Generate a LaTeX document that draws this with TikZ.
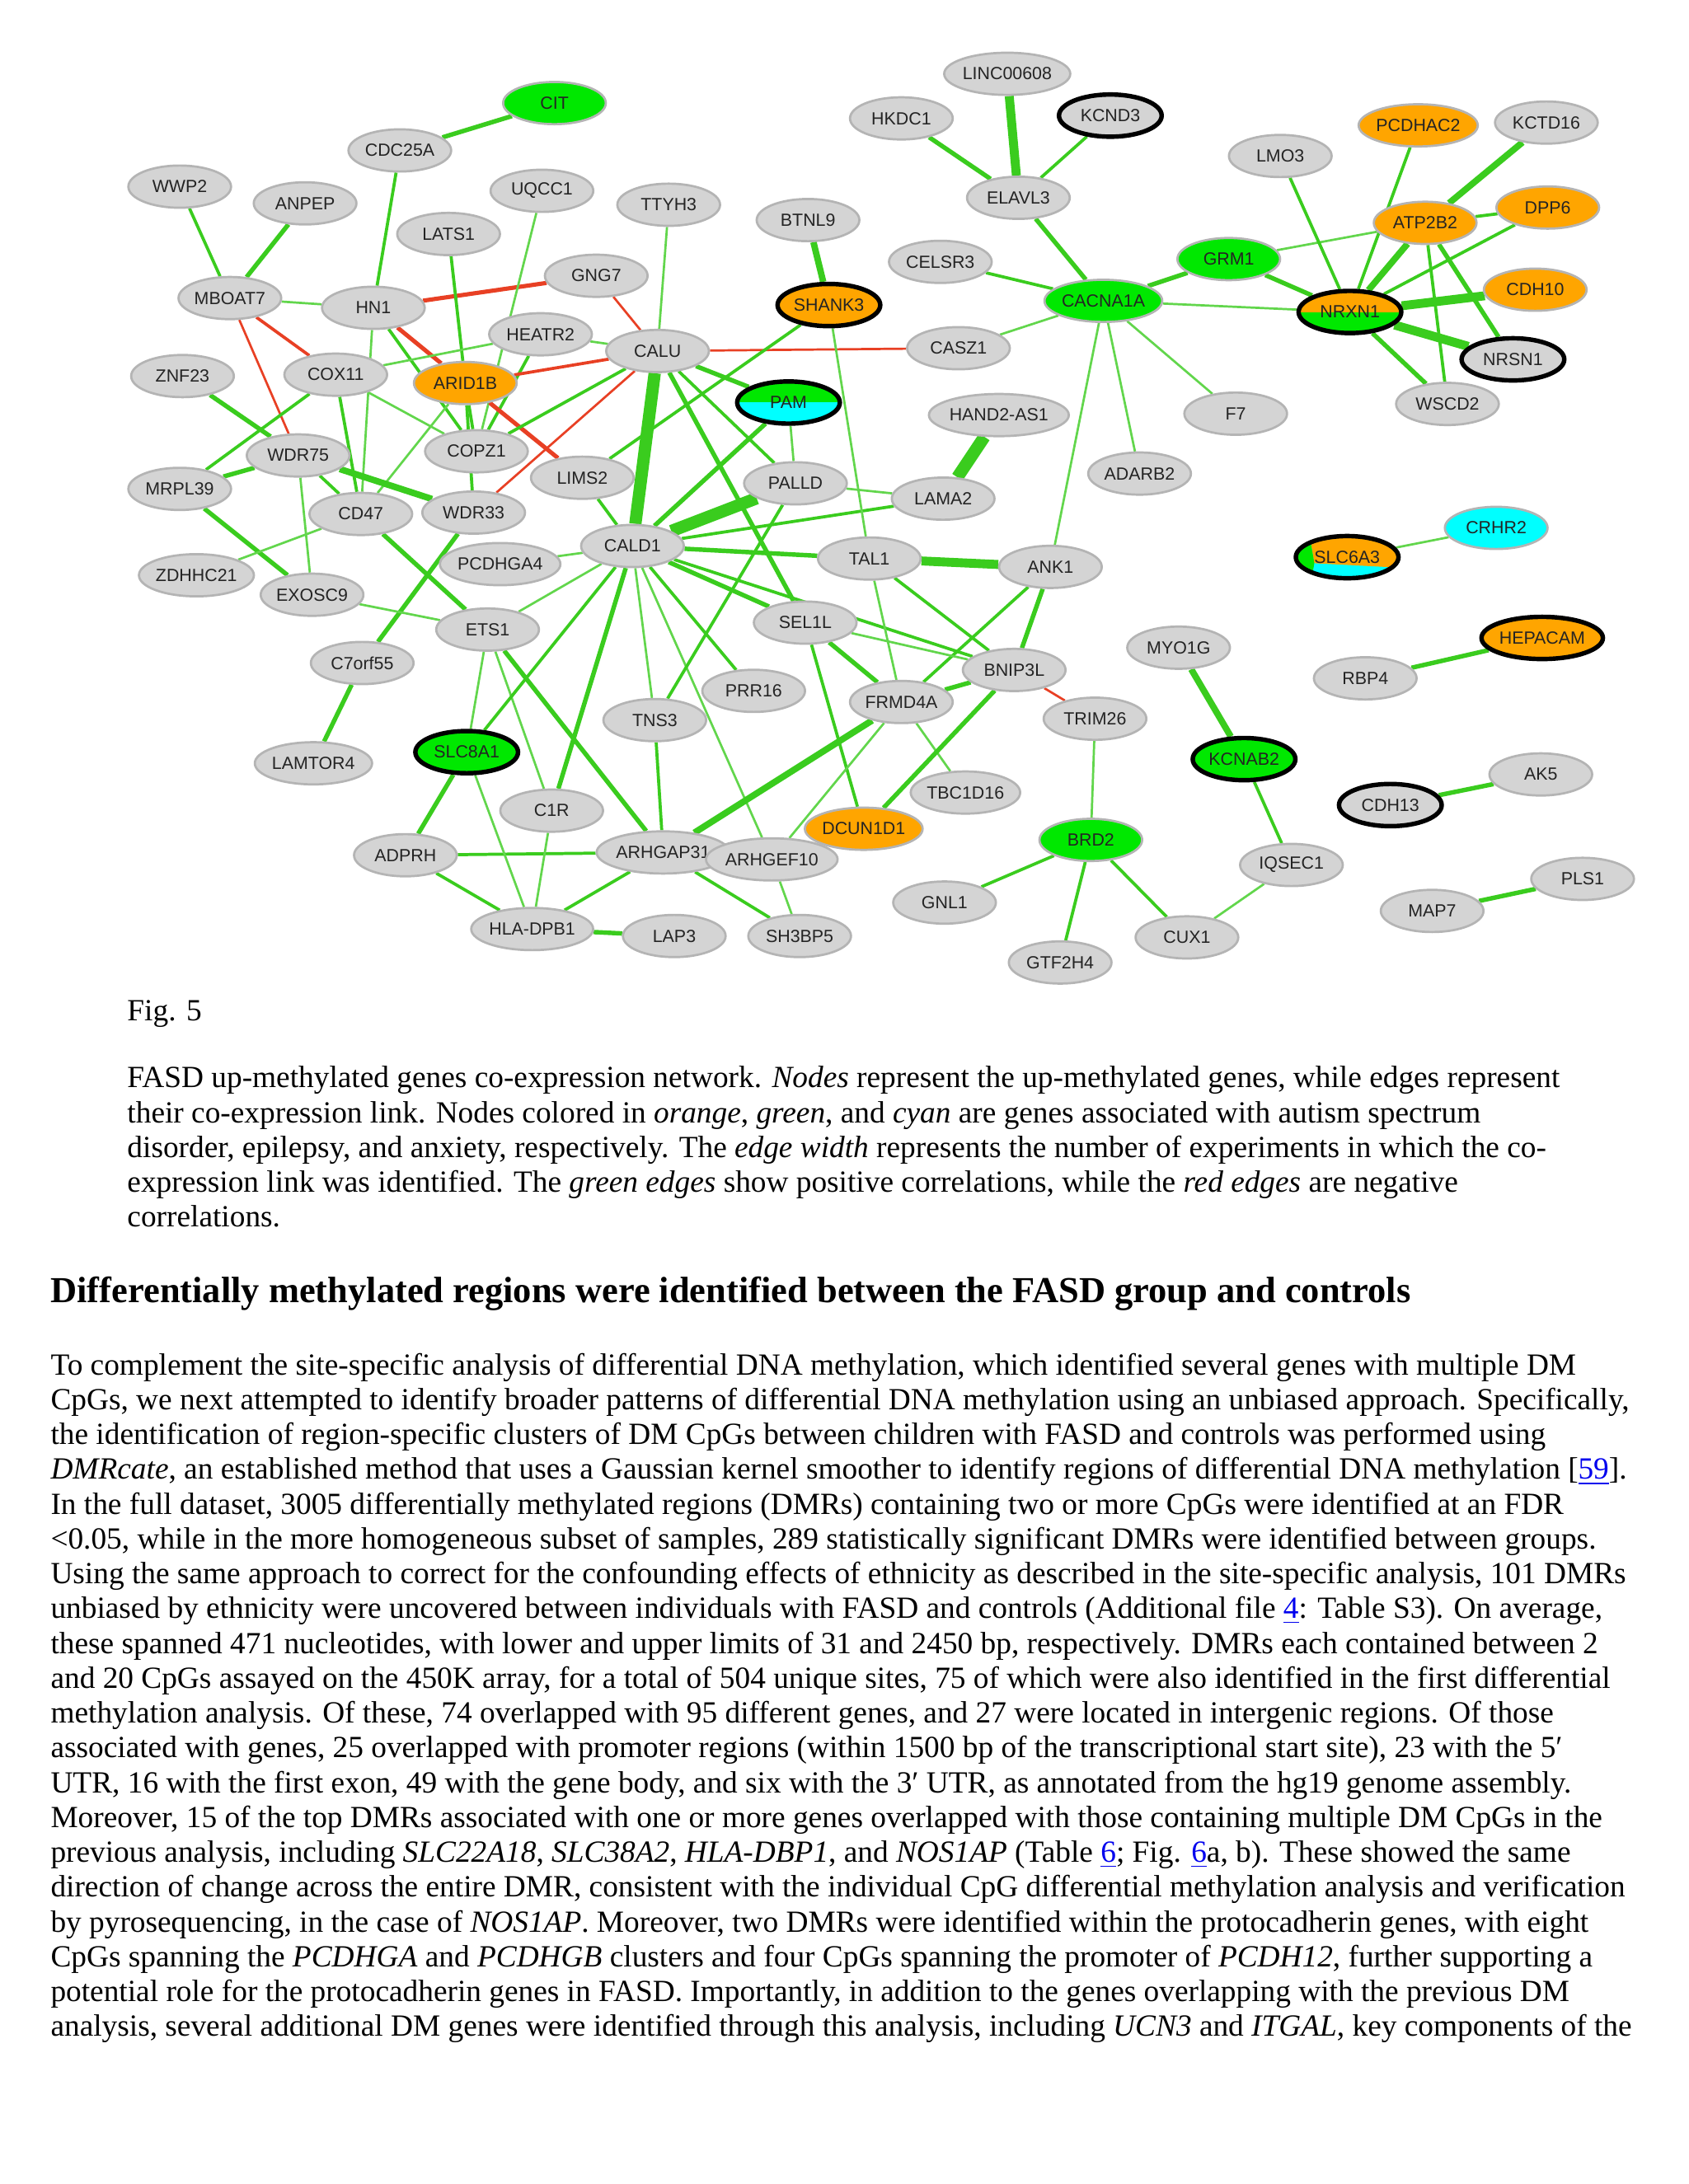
\documentclass[tikz,border=0pt]{standalone}
\usepackage{fontspec}
\setmainfont{Liberation Serif}
\newfontfamily\genefont{Liberation Sans}
\usepackage{xcolor}
\usepackage{tikz}
\usetikzlibrary{shapes.geometric, backgrounds}

\definecolor{nodegray}{RGB}{212,212,212}
\definecolor{rimgray}{RGB}{180,180,180}
\definecolor{genegreen}{RGB}{0,232,0}
\definecolor{geneorange}{RGB}{255,165,0}
\definecolor{genecyan}{RGB}{0,255,255}
\definecolor{edgegreen}{RGB}{58,204,30}
\definecolor{edgelight}{RGB}{98,214,76}
\definecolor{edgered}{RGB}{232,64,36}
\definecolor{linkblue}{RGB}{0,0,238}
\definecolor{labelgray}{RGB}{36,36,36}

\newcommand{\lnk}[1]{\textcolor{linkblue}{\underline{#1}}}

\tikzset{
  gene/.style={ellipse, draw=rimgray, line width=0.8pt, fill=nodegray,
               minimum width=1.29cm, minimum height=0.53cm, inner sep=0pt,
               font=\genefont\fontsize{6.3}{7}\selectfont, text=labelgray},
  orangeg/.style={gene, fill=geneorange},
  greeng/.style={gene, fill=genegreen},
  cyang/.style={gene, fill=genecyan},
  rim/.style={draw=black, line width=1.6pt},
  halves/.style 2 args={path picture={
      \fill[#1] (path picture bounding box.north west) rectangle (path picture bounding box.east);
      \fill[#2] (path picture bounding box.west) rectangle (path picture bounding box.south east);}},
  g1/.style={draw=edgelight, line width=0.8pt},
  g2/.style={draw=edgegreen, line width=1.1pt},
  g3/.style={draw=edgegreen, line width=1.6pt},
  g4/.style={draw=edgegreen, line width=2.3pt},
  g5/.style={draw=edgegreen, line width=3.2pt},
  g6/.style={draw=edgegreen, line width=4.4pt},
  r1/.style={draw=edgered, line width=0.8pt},
  r2/.style={draw=edgered, line width=1.1pt},
  r3/.style={draw=edgered, line width=1.5pt},
  txtline/.style={anchor=base west, inner sep=0pt, font=\fontsize{11}{12.4}\selectfont},
}

\begin{document}
\begin{tikzpicture}[x=0.0175cm, y=-0.0175cm]
  \useasboundingbox (0,0) rectangle (1212,1568);

  % genes
  \node[greeng] (cit) at (398,74) {CIT};
  \node[gene] (cdc25a) at (287,108) {CDC25A};
  \node[gene] (wwp2) at (129,134) {WWP2};
  \node[gene] (anpep) at (219,146) {ANPEP};
  \node[gene] (uqcc1) at (389,137) {UQCC1};
  \node[gene] (ttyh3) at (480,147) {TTYH3};
  \node[gene] (lats1) at (322,168) {LATS1};
  \node[gene] (gng7) at (428,198) {GNG7};
  \node[gene] (mboat7) at (165,214) {MBOAT7};
  \node[gene] (hn1) at (268,221) {HN1};
  \node[gene] (heatr2) at (388,240) {HEATR2};
  \node[gene] (calu) at (472,252) {CALU};
  \node[gene] (znf23) at (131,270) {ZNF23};
  \node[gene] (cox11) at (241,269) {COX11};
  \node[orangeg] (arid1b) at (334,275) {ARID1B};
  \node[gene] (wdr75) at (214,327) {WDR75};
  \node[gene] (copz1) at (342,324) {COPZ1};
  \node[gene] (lims2) at (418,343) {LIMS2};
  \node[gene] (mrpl39) at (129,351) {MRPL39};
  \node[gene] (cd47) at (259,369) {CD47};
  \node[gene] (wdr33) at (340,368) {WDR33};
  \node[gene] (pcdhga4) at (359,405) {PCDHGA4};
  \node[gene] (cald1) at (454,392) {CALD1};
  \node[gene] (zdhhc21) at (141,413) {ZDHHC21};
  \node[gene] (exosc9) at (224,427) {EXOSC9};
  \node[gene] (ets1) at (350,452) {ETS1};
  \node[gene] (c7orf55) at (260,476) {C7orf55};
  \node[gene] (lamtor4) at (225,548) {LAMTOR4};
  \node[greeng, rim] (slc8a1) at (335,540) {SLC8A1};
  \node[gene] (c1r) at (396,582) {C1R};
  \node[gene] (adprh) at (291,614) {ADPRH};
  \node[gene] (arhgap31) at (476,612) {ARHGAP31};
  \node[gene] (arhgef10) at (554,617) {ARHGEF10};
  \node[gene] (hla) at (382,667) {HLA-DPB1};
  \node[gene] (lap3) at (484,672) {LAP3};
  \node[gene] (sh3bp5) at (574,672) {SH3BP5};
  \node[gene] (tns3) at (470,517) {TNS3};
  \node[gene] (prr16) at (541,496) {PRR16};
  \node[gene] (palld) at (571,347) {PALLD};
  \node[gene, rim, halves={genegreen}{genecyan}] (pam) at (566,289) {PAM};
  \node[orangeg, rim] (shank3) at (595,219) {SHANK3};
  \node[gene] (btnl9) at (580,158) {BTNL9};
  \node[gene] (celsr3) at (675,188) {CELSR3};
  \node[gene] (casz1) at (688,250) {CASZ1};
  \node[gene] (hkdc1) at (647,85) {HKDC1};
  \node[gene] (linc) at (723,53) {LINC00608};
  \node[gene, rim] (kcnd3) at (797,83) {KCND3};
  \node[gene] (elavl3) at (731,142) {ELAVL3};
  \node[greeng] (cacna1a) at (792,216) {CACNA1A};
  \node[gene] (hand2) at (717,298) {HAND2-AS1};
  \node[gene] (lama2) at (677,358) {LAMA2};
  \node[gene] (tal1) at (624,401) {TAL1};
  \node[gene] (ank1) at (754,407) {ANK1};
  \node[gene] (adarb2) at (818,340) {ADARB2};
  \node[gene] (sel1l) at (578,447) {SEL1L};
  \node[gene] (bnip3l) at (728,481) {BNIP3L};
  \node[gene] (frmd4a) at (647,504) {FRMD4A};
  \node[gene] (trim26) at (786,516) {TRIM26};
  \node[gene] (tbc1d16) at (693,569) {TBC1D16};
  \node[orangeg] (dcun1d1) at (620,595) {DCUN1D1};
  \node[greeng] (brd2) at (783,603) {BRD2};
  \node[gene] (gnl1) at (678,648) {GNL1};
  \node[gene] (gtf2h4) at (761,691) {GTF2H4};
  \node[gene] (cux1) at (852,673) {CUX1};
  \node[gene] (iqsec1) at (927,621) {IQSEC1};
  \node[greeng, rim] (kcnab2) at (893,545) {KCNAB2};
  \node[gene] (myo1g) at (846,465) {MYO1G};
  \node[gene] (f7) at (887,297) {F7};
  \node[greeng] (grm1) at (882,186) {GRM1};
  \node[gene] (lmo3) at (919,112) {LMO3};
  \node[gene, rim, halves={geneorange}{genegreen}] (nrxn1) at (969,224) {NRXN1};
  \node[orangeg] (pcdhac2) at (1018,90) {PCDHAC2};
  \node[gene] (kctd16) at (1110,88) {KCTD16};
  \node[orangeg] (atp2b2) at (1023,160) {ATP2B2};
  \node[orangeg] (dpp6) at (1111,149) {DPP6};
  \node[orangeg] (cdh10) at (1102,208) {CDH10};
  \node[gene, rim] (nrsn1) at (1086,258) {NRSN1};
  \node[gene] (wscd2) at (1039,290) {WSCD2};
  \node[cyang] (crhr2) at (1074,379) {CRHR2};
  \node[gene, rim, path picture={
      \fill[genecyan] (path picture bounding box.south west) rectangle (path picture bounding box.north east);
      \begin{scope}[shift={(path picture bounding box.center)}, xshift=-0.17cm]
        \fill[geneorange] (0,0) -- (-3:2cm) -- (50:2cm) -- (100:2cm) -- cycle;
        \fill[genegreen] (0,0) -- (100:2cm) -- (180:2cm) -- (260:2cm) -- cycle;
      \end{scope}}] (slc6a3) at (967,400) {SLC6A3};
  \node[orangeg, rim] (hepacam) at (1107,458) {HEPACAM};
  \node[gene] (rbp4) at (980,487) {RBP4};
  \node[gene] (ak5) at (1106,556) {AK5};
  \node[gene, rim] (cdh13) at (998,578) {CDH13};
  \node[gene] (pls1) at (1136,631) {PLS1};
  \node[gene] (map7) at (1028,654) {MAP7};

  % co-expression links
  \begin{scope}[on background layer]
    \fill[white] (0,0) rectangle (1212,1568);
    \draw[g3] (cit) -- (cdc25a);
    \draw[g2] (cdc25a) -- (hn1);
    \draw[g2] (wwp2) -- (mboat7);
    \draw[g3] (anpep) -- (mboat7);
    \draw[g1] (mboat7) -- (hn1);
    \draw[r2] (mboat7) -- (cox11);
    \draw[r1] (mboat7) -- (wdr75);
    \draw[r3] (hn1) -- (gng7);
    \draw[r3] (hn1) -- (arid1b);
    \draw[g2] (hn1) -- (copz1);
    \draw[g1] (hn1) -- (cd47);
    \draw[g2] (lats1) -- (arid1b);
    \draw[g1] (uqcc1) -- (copz1);
    \draw[g1] (heatr2) -- (cox11);
    \draw[g1] (heatr2) -- (calu);
    \draw[g2] (heatr2) -- (copz1);
    \draw[r1] (gng7) -- (calu);
    \draw[g1] (ttyh3) -- (calu);
    \draw[r2] (arid1b) -- (calu);
    \draw[r3] (arid1b) -- (lims2);
    \draw[g2] (arid1b) -- (copz1);
    \draw[g2] (arid1b) -- (wdr33);
    \draw[g1] (arid1b) -- (cd47);
    \draw[r1] (calu) -- (wdr33);
    \draw[r1] (calu) -- (casz1);
    \draw[g2] (calu) -- (copz1);
    \draw[g6] (calu) -- (cald1);
    \draw[g3] (calu) -- (pam);
    \draw[g2] (calu) -- (palld);
    \draw[g3] (calu) -- (sel1l);
    \draw[g2] (lims2) -- (shank3);
    \draw[g2] (lims2) -- (cald1);
    \draw[g2] (cox11) -- (cd47);
    \draw[g1] (cox11) -- (copz1);
    \draw[g2] (cox11) -- (mrpl39);
    \draw[g3] (znf23) -- (wdr75);
    \draw[g3] (mrpl39) -- (wdr75);
    \draw[g3] (mrpl39) -- (exosc9);
    \draw[g2] (wdr75) -- (cd47);
    \draw[g4] (wdr75) -- (wdr33);
    \draw[g1] (wdr75) -- (exosc9);
    \draw[g1] (cd47) -- (zdhhc21);
    \draw[g3] (cd47) -- (ets1);
    \draw[g3] (wdr33) -- (c7orf55);
    \draw[g3] (c7orf55) -- (lamtor4);
    \draw[g1] (exosc9) -- (ets1);
    \draw[g1] (ets1) -- (cald1);
    \draw[g1] (ets1) -- (slc8a1);
    \draw[g1] (ets1) -- (c1r);
    \draw[g3] (ets1) -- (arhgap31);
    \draw[g1] (pcdhga4) -- (cald1);
    \draw[g2] (cald1) -- (slc8a1);
    \draw[g3] (cald1) -- (c1r);
    \draw[g1] (cald1) -- (tns3);
    \draw[g2] (cald1) -- (prr16);
    \draw[g1] (cald1) -- (arhgef10);
    \draw[g3] (cald1) -- (sel1l);
    \draw[g2] (cald1) -- (bnip3l);
    \draw[g3] (cald1) -- (tal1);
    \draw[g2] (cald1) -- (lama2);
    \draw[g6] (cald1) -- (palld);
    \draw[g3] (cald1) -- (pam);
    \draw[g2] (palld) -- (tns3);
    \draw[g1] (palld) -- (lama2);
    \draw[g1] (pam) -- (palld);
    \draw[g6] (lama2) -- (hand2);
    \draw[g5] (tal1) -- (ank1);
    \draw[g1] (tal1) -- (shank3);
    \draw[g1] (tal1) -- (frmd4a);
    \draw[g2] (tal1) -- (bnip3l);
    \draw[g3] (ank1) -- (bnip3l);
    \draw[g2] (ank1) -- (frmd4a);
    \draw[g1] (ank1) -- (cacna1a);
    \draw[g1] (sel1l) -- (bnip3l);
    \draw[g3] (sel1l) -- (frmd4a);
    \draw[g2] (sel1l) -- (dcun1d1);
    \draw[g3] (frmd4a) -- (bnip3l);
    \draw[g4] (frmd4a) -- (arhgap31);
    \draw[g1] (frmd4a) -- (arhgef10);
    \draw[g1] (frmd4a) -- (tbc1d16);
    \draw[g3] (bnip3l) -- (dcun1d1);
    \draw[r1] (bnip3l) -- (trim26);
    \draw[g1] (trim26) -- (brd2);
    \draw[g2] (brd2) -- (gnl1);
    \draw[g2] (brd2) -- (gtf2h4);
    \draw[g2] (brd2) -- (cux1);
    \draw[g1] (cux1) -- (iqsec1);
    \draw[g2] (iqsec1) -- (kcnab2);
    \draw[g4] (kcnab2) -- (myo1g);
    \draw[g2] (tns3) -- (arhgap31);
    \draw[g2] (arhgap31) -- (adprh);
    \draw[g2] (arhgap31) -- (hla);
    \draw[g2] (arhgap31) -- (sh3bp5);
    \draw[g1] (arhgef10) -- (sh3bp5);
    \draw[g3] (slc8a1) -- (adprh);
    \draw[g1] (slc8a1) -- (hla);
    \draw[g1] (c1r) -- (hla);
    \draw[g2] (adprh) -- (hla);
    \draw[g3] (hla) -- (lap3);
    \draw[g4] (shank3) -- (btnl9);
    \draw[g1] (casz1) -- (cacna1a);
    \draw[g2] (celsr3) -- (cacna1a);
    \draw[g3] (elavl3) -- (cacna1a);
    \draw[g3] (hkdc1) -- (elavl3);
    \draw[g5] (linc) -- (elavl3);
    \draw[g2] (kcnd3) -- (elavl3);
    \draw[g3] (cacna1a) -- (grm1);
    \draw[g1] (cacna1a) -- (nrxn1);
    \draw[g1] (cacna1a) -- (f7);
    \draw[g1] (cacna1a) -- (adarb2);
    \draw[g1] (grm1) -- (atp2b2);
    \draw[g3] (grm1) -- (nrxn1);
    \draw[g2] (lmo3) -- (nrxn1);
    \draw[g2] (pcdhac2) -- (nrxn1);
    \draw[g4] (atp2b2) -- (nrxn1);
    \draw[g4] (kctd16) -- (atp2b2);
    \draw[g2] (atp2b2) -- (dpp6);
    \draw[g2] (dpp6) -- (nrxn1);
    \draw[g5] (cdh10) -- (nrxn1);
    \draw[g5] (nrsn1) -- (nrxn1);
    \draw[g3] (atp2b2) -- (nrsn1);
    \draw[g2] (atp2b2) -- (wscd2);
    \draw[g3] (nrxn1) -- (wscd2);
    \draw[g1] (slc6a3) -- (crhr2);
    \draw[g3] (hepacam) -- (rbp4);
    \draw[g3] (cdh13) -- (ak5);
    \draw[g3] (map7) -- (pls1);
  \end{scope}

  % caption
  \node[txtline] (fig) at (91,733) {Fig. 5};
  \node[txtline] (cap1) at (91,781) {FASD up-methylated genes co-expression network. \emph{Nodes} represent the up-methylated genes, while edges represent};
  \node[txtline] (cap2) at (91,806) {their co-expression link. Nodes colored in \emph{orange}, \emph{green}, and \emph{cyan} are genes associated with autism spectrum};
  \node[txtline] (cap3) at (91,831) {disorder, epilepsy, and anxiety, respectively. The \emph{edge width} represents the number of experiments in which the co-};
  \node[txtline] (cap4) at (91,856) {expression link was identified. The \emph{green edges} show positive correlations, while the \emph{red edges} are negative};
  \node[txtline] (cap5) at (91,881) {correlations.};

  % section
  \node[anchor=base west, inner sep=0pt, font=\bfseries\fontsize{13.1}{15}\selectfont] (head) at (36,935)
    {Differentially methylated regions were identified between the FASD group and controls};
  \node[txtline] (b1) at (36,987) {To complement the site-specific analysis of differential DNA methylation, which identified several genes with multiple DM};
  \node[txtline] (b2) at (36,1012) {CpGs, we next attempted to identify broader patterns of differential DNA methylation using an unbiased approach. Specifically,};
  \node[txtline] (b3) at (36,1037) {the identification of region-specific clusters of DM CpGs between children with FASD and controls was performed using};
  \node[txtline] (b4) at (36,1062) {\emph{DMRcate}, an established method that uses a Gaussian kernel smoother to identify regions of differential DNA methylation [\lnk{59}].};
  \node[txtline] (b5) at (36,1087) {In the full dataset, 3005 differentially methylated regions (DMRs) containing two or more CpGs were identified at an FDR};
  \node[txtline] (b6) at (36,1112) {<0.05, while in the more homogeneous subset of samples, 289 statistically significant DMRs were identified between groups.};
  \node[txtline] (b7) at (36,1137) {Using the same approach to correct for the confounding effects of ethnicity as described in the site-specific analysis, 101 DMRs};
  \node[txtline] (b8) at (36,1162) {unbiased by ethnicity were uncovered between individuals with FASD and controls (Additional file \lnk{4}: Table S3). On average,};
  \node[txtline] (b9) at (36,1187) {these spanned 471 nucleotides, with lower and upper limits of 31 and 2450 bp, respectively. DMRs each contained between 2};
  \node[txtline] (b10) at (36,1212) {and 20 CpGs assayed on the 450K array, for a total of 504 unique sites, 75 of which were also identified in the first differential};
  \node[txtline] (b11) at (36,1237) {methylation analysis. Of these, 74 overlapped with 95 different genes, and 27 were located in intergenic regions. Of those};
  \node[txtline] (b12) at (36,1262) {associated with genes, 25 overlapped with promoter regions (within 1500 bp of the transcriptional start site), 23 with the 5′};
  \node[txtline] (b13) at (36,1287) {UTR, 16 with the first exon, 49 with the gene body, and six with the 3′ UTR, as annotated from the hg19 genome assembly.};
  \node[txtline] (b14) at (36,1312) {Moreover, 15 of the top DMRs associated with one or more genes overlapped with those containing multiple DM CpGs in the};
  \node[txtline] (b15) at (36,1337) {previous analysis, including \emph{SLC22A18}, \emph{SLC38A2}, \emph{HLA-DBP1}, and \emph{NOS1AP} (Table \lnk{6}; Fig. \lnk{6}a, b). These showed the same};
  \node[txtline] (b16) at (36,1362) {direction of change across the entire DMR, consistent with the individual CpG differential methylation analysis and verification};
  \node[txtline] (b17) at (36,1387) {by pyrosequencing, in the case of \emph{NOS1AP}. Moreover, two DMRs were identified within the protocadherin genes, with eight};
  \node[txtline] (b18) at (36,1412) {CpGs spanning the \emph{PCDHGA} and \emph{PCDHGB} clusters and four CpGs spanning the promoter of \emph{PCDH12}, further supporting a};
  \node[txtline] (b19) at (36,1437) {potential role for the protocadherin genes in FASD. Importantly, in addition to the genes overlapping with the previous DM};
  \node[txtline] (b20) at (36,1462) {analysis, several additional DM genes were identified through this analysis, including \emph{UCN3} and \emph{ITGAL}, key components of the};
\end{tikzpicture}
\end{document}
